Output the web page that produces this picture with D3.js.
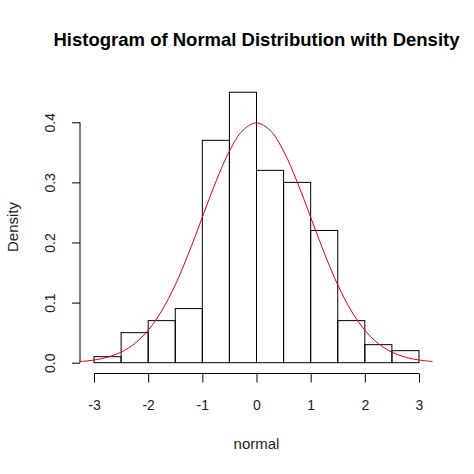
<!DOCTYPE html>
<html><head><meta charset="utf-8">
<script src="https://cdn.jsdelivr.net/npm/d3@7"></script>
<style>body{margin:0;background:#fff}svg{display:block}text{font-family:"Liberation Sans",Arial,sans-serif}</style>
</head><body>
<script>
const binStarts = [-3,-2.5,-2,-1.5,-1,-0.5,0,0.5,1,1.5,2,2.5];
const binWidthVal = 0.5;
const densities = [0.01,0.05,0.07,0.09,0.37,0.45,0.32,0.30,0.22,0.07,0.03,0.02];
const curveX = [-3.25,-3,-2.75,-2.5,-2.25,-2,-1.75,-1.5,-1.25,-1,-0.75,-0.5,-0.25,0,0.25,0.5,0.75,1,1.25,1.5,1.75,2,2.25,2.5,2.75,3,3.25];
const curveY = [0.0020,0.0044,0.0091,0.0175,0.0317,0.0540,0.0863,0.1295,0.1826,0.2420,0.3011,0.3521,0.3867,0.3989,0.3867,0.3521,0.3011,0.2420,0.1826,0.1295,0.0863,0.0540,0.0317,0.0175,0.0091,0.0044,0.0020];
const xTicks = [-3,-2,-1,0,1,2,3];
const yTicks = [0,0.1,0.2,0.3,0.4];
const title = "Histogram of Normal Distribution with Density";

const W=474,H=474;
const svg=d3.select("body").append("svg").attr("width",W).attr("height",H);
const x=d3.scaleLinear().domain([-3.24,3.24]).range([81,432]);
const y=d3.scaleLinear().domain([-0.018,0.468]).range([373.5,81.4]);
const y0=y(0);
const tickColor="#222";

// bars
svg.append("g").selectAll("rect").data(binStarts).join("rect")
  .attr("x",d=>x(d)).attr("width",(d)=>x(d+binWidthVal)-x(d))
  .attr("y",(d,i)=>y(densities[i])).attr("height",(d,i)=>y0-y(densities[i]))
  .attr("fill","none").attr("stroke","#000").attr("stroke-width",1);

// curve
svg.append("path").datum(curveX.map((v,i)=>[v,curveY[i]]))
  .attr("d",d3.line().x(d=>x(d[0])).y(d=>y(d[1])).curve(d3.curveCatmullRom))
  .attr("fill","none").attr("stroke","#e8000b").attr("stroke-width",1);

// x axis
const xa=svg.append("g").attr("transform",`translate(0,${y(-0.018)})`)
  .call(d3.axisBottom(x).tickValues(xTicks).tickSize(9).tickSizeOuter(0).tickFormat(d=>String(d)));
xa.select(".domain").attr("d",`M${x(-3)},0H${x(3)}`);
xa.selectAll(".tick text").attr("font-size",14).attr("font-family","Liberation Sans, Arial, sans-serif")
  .attr("y",null).attr("dy",null).attr("transform","translate(0,36)").attr("fill",tickColor);
xa.selectAll("line,path").attr("stroke","#000");

// y axis
const ya=svg.append("g").attr("transform",`translate(${x(-3.24)-1},0)`)
  .call(d3.axisLeft(y).tickValues(yTicks).tickSize(8).tickSizeOuter(0).tickFormat(d=>d.toFixed(1)));
ya.select(".domain").attr("d",`M0,${y(0)}V${y(0.4)}`);
ya.selectAll("line,path").attr("stroke","#000");
ya.selectAll(".tick text").attr("font-size",14).attr("font-family","Liberation Sans, Arial, sans-serif")
  .attr("fill",tickColor).attr("x",null).attr("dy",null).attr("text-anchor","middle")
  .attr("transform","translate(-25,0) rotate(-90)");

// labels
svg.append("text").attr("x",256.5).attr("y",46).attr("text-anchor","middle")
  .attr("font-weight","bold").attr("font-size",18.5).attr("fill","#000").text(title);
svg.append("text").attr("x",256.5).attr("y",449).attr("text-anchor","middle")
  .attr("font-size",15).attr("fill",tickColor).text("normal");
svg.append("text").attr("transform","translate(18,227) rotate(-90)").attr("text-anchor","middle")
  .attr("font-size",15).attr("fill",tickColor).text("Density");
</script>
</body></html>
